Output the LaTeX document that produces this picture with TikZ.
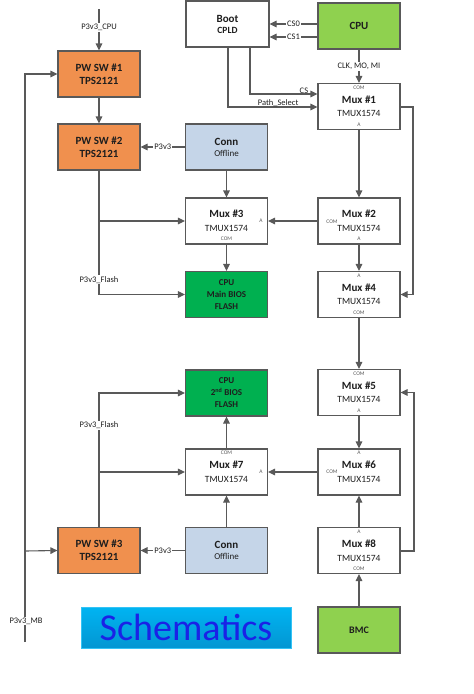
\documentclass[tikz,border=0pt]{standalone}
\usepackage{fontspec}
\setmainfont{Carlito}
\usetikzlibrary{arrows.meta,positioning,calc,shadings}
\definecolor{edgec}{HTML}{595959}
\definecolor{orng}{HTML}{F0904E}
\definecolor{cpug}{HTML}{8FD14F}
\definecolor{flashg}{HTML}{00B050}
\definecolor{connb}{HTML}{C5D5E8}
\definecolor{txt}{HTML}{1E1E1E}
\definecolor{schtop}{HTML}{00B4F2}
\definecolor{schbot}{HTML}{0396D2}
\definecolor{schtxt}{HTML}{1A22E6}
\tikzset{
  box/.style={draw=edgec, line width=1.1pt, minimum width=82pt, minimum height=46pt, inner sep=1pt, align=center, text=txt},
  pwbox/.style={box, fill=orng, font=\fontsize{11}{13}\selectfont\bfseries},
  muxbox/.style={box, fill=white, font=\fontsize{9.5}{13.5}\selectfont},
  connbox/.style={box, fill=connb},
  flashbox/.style={box, fill=flashg, font=\fontsize{9}{12}\selectfont\bfseries},
  greenbox/.style={box, fill=cpug, font=\fontsize{11}{13}\selectfont\bfseries},
  tiny/.style={font=\fontsize{5.5}{6}\selectfont, text=edgec, inner sep=0pt},
  lbl/.style={font=\fontsize{8.5}{10}\selectfont, text=txt, fill=white, inner sep=1pt},
  lblnf/.style={font=\fontsize{8.5}{10}\selectfont, text=txt, inner sep=1pt},
  conn/.style={draw=edgec, line width=1.1pt},
  arr/.style={conn, -{Triangle[length=7pt,width=6.5pt]}},
}
\newcommand{\muxtxt}[1]{\textbf{\fontsize{11}{13.5}\selectfont Mux #1}\\TMUX1574}
\begin{document}
\begin{tikzpicture}[x=1pt,y=-1pt]
\useasboundingbox (0,0) rectangle (474,694);
% boxes
\node[box, fill=white, minimum width=83pt, minimum height=46pt, font=\bfseries] (boot) at (227.5,24) {\fontsize{11}{13}\selectfont Boot\\[-1pt]\fontsize{9.5}{11}\selectfont CPLD};
\node[greenbox] (cpu) at (359,26) {CPU};
\node[pwbox] (pw1) at (99,74) {PW SW \#1\\TPS2121};
\node[pwbox] (pw2) at (99,147) {PW SW \#2\\TPS2121};
\node[connbox] (conn1) at (226.5,147) {\textbf{\fontsize{11}{13}\selectfont Conn}\\[-1pt]{\fontsize{9}{11}\selectfont Offline}};
\node[muxbox] (mux1) at (359,106.5) {\muxtxt{\#1}};
\node[muxbox] (mux2) at (359,221) {\muxtxt{\#2}};
\node[muxbox] (mux3) at (226.5,221) {\muxtxt{\#3}};
\node[muxbox] (mux4) at (359,294.5) {\muxtxt{\#4}};
\node[flashbox] (flash1) at (226.5,294.5) {CPU\\Main BIOS\\FLASH};
\node[muxbox] (mux5) at (359,392.5) {\muxtxt{\#5}};
\node[muxbox] (mux6) at (359,472) {\muxtxt{\#6}};
\node[muxbox] (mux7) at (226.5,472) {\muxtxt{\#7}};
\node[flashbox] (flash2) at (226.5,393) {CPU\\2\textsuperscript{nd} BIOS\\FLASH};
\node[pwbox] (pw3) at (99,550.5) {PW SW \#3\\TPS2121};
\node[connbox] (conn2) at (226.5,550.5) {\textbf{\fontsize{11}{13}\selectfont Conn}\\[-1pt]{\fontsize{9}{11}\selectfont Offline}};
\node[muxbox] (mux8) at (359,550.5) {\muxtxt{\#8}};
\node[greenbox, font=\fontsize{10}{12}\selectfont\bfseries] (bmc) at (359,630) {BMC};
\node[minimum width=210pt, minimum height=41pt, top color=schtop, bottom color=schbot, draw=schtop!80!white, line width=0.6pt, text=schtxt, font=\fontsize{38}{40}\selectfont] (sch) at (186,627.5) {Schematics};
% pin labels
\node[tiny] (m1com) at (359,88) {COM};
\node[tiny] (m1a) at (359,125) {A};
\node[tiny] (m2com) at (332,222) {COM};
\node[tiny] (m2a) at (359,239) {A};
\node[tiny] (m3a) at (261,221) {A};
\node[tiny] (m3com) at (226.5,239) {COM};
\node[tiny] (m4a) at (359,276) {A};
\node[tiny] (m4com) at (359,313) {COM};
\node[tiny] (m5com) at (359,374) {COM};
\node[tiny] (m5a) at (359,411) {A};
\node[tiny] (m6a) at (359,453) {A};
\node[tiny] (m6com) at (332,472) {COM};
\node[tiny] (m7com) at (226.5,453) {COM};
\node[tiny] (m7a) at (261,472) {A};
\node[tiny] (m8a) at (359,532) {A};
\node[tiny] (m8com) at (359,569) {COM};
% coordinates
\coordinate (cputop) at (99,9);
\coordinate (mbbot) at (25,642);
\coordinate (mbsplit) at (25,551);
\coordinate (f1split) at (99,221);
\coordinate (f2split) at (99,472);
\coordinate (bootA) at (228,47);
\coordinate (bootB) at (250,47);
\coordinate (r1) at (413,107);
\coordinate (r2) at (414,551);
% connectors top half
\draw[arr] (cputop) -- node[lbl, pos=0.45] {P3v3\_CPU} (pw1.north);
\draw[arr] (pw1) -- (pw2);
\draw[arr] (conn1) -- node[lbl] {P3v3} (pw2);
\draw[arr] (cpu.west |- 0,24) -- node[lbl] {CS0} (boot.east |- 0,24);
\draw[arr] (cpu.west |- 0,37) -- node[lbl] {CS1} (boot.east |- 0,37);
\draw[arr] (cpu) -- node[lbl, pos=0.5] {CLK, MO, MI} (mux1);
\draw[arr] (bootA) |- node[lblnf, pos=0.78, above=-1pt] {Path\_Select} (mux1.west |- 0,107);
\draw[arr] (bootB) |- node[lblnf, pos=0.9, above=-1pt] {CS} (mux1.west |- 0,94);
\draw[arr] (mux1.east |- r1) -- (r1) |- (mux4.east);
\draw[arr] (mux1) -- (mux2);
\draw[arr] (mux2) -- (mux3);
\draw[arr] (mux2) -- (mux4);
\draw[arr] (conn1) -- (mux3);
\draw[arr] (mux3) -- (flash1);
\draw[arr] (pw2.south) |- node[lbl, pos=0.44] {P3v3\_Flash} (flash1.west);
\draw[arr] (f1split) -- (mux3.west);
\draw[arr] (mbbot) |- (pw1.west);
\draw[arr] (mbsplit) -- (pw3.west);
\node[lbl] (mblabel) at (26,621) {P3v3\_MB};
% connectors bottom half
\draw[arr] (mux4) -- (mux5);
\draw[arr] (mux5) -- (mux6);
\draw[arr] (mux6) -- (mux7);
\draw[arr] (mux7) -- (flash2);
\draw[arr] (conn2) -- (mux7);
\draw[arr] (conn2) -- node[lbl] {P3v3} (pw3);
\draw[arr] (pw3.north) |- node[lbl, pos=0.38] {P3v3\_Flash} (flash2.west);
\draw[arr] (f2split) -- (mux7.west);
\draw[arr] (mux8) -- (mux6);
\draw[arr] (mux8.east |- r2) -- (r2) |- (mux5.east);
\draw[arr] (bmc) -- (mux8);
\end{tikzpicture}
\end{document}
